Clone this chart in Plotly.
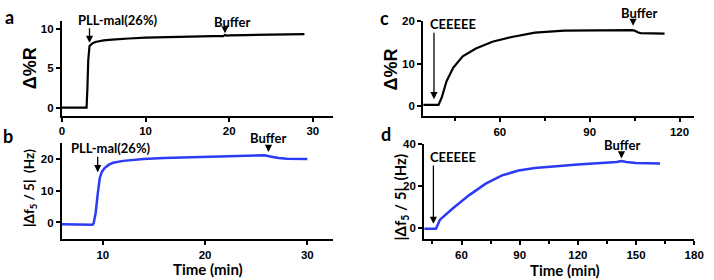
import plotly.graph_objects as go

# ---------------- data ----------------
a_time = [0, 1, 2, 2.95, 3.05, 3.15, 3.3, 3.6, 4, 5, 6, 7, 8, 10, 12, 15, 18, 19.3, 19.5, 19.7, 20, 22, 25, 28, 29]
a_val = [0, 0, 0, 0, 2.5, 6.0, 7.8, 8.1, 8.3, 8.5, 8.6, 8.7, 8.75, 8.85, 8.92, 9.0, 9.05, 9.05, 9.2, 9.12, 9.15, 9.18, 9.22, 9.28, 9.3]

b_time = [6, 7, 8, 9, 9.1, 9.3, 9.5, 9.7, 9.9, 10.2, 10.6, 11, 12, 13, 14, 16, 18, 20, 22, 24, 25, 25.8, 26.5, 27.2, 28, 29, 30]
b_val = [-0.6, -0.7, -0.7, -0.7, -0.3, 3, 9, 14, 16, 17.3, 18.3, 18.9, 19.5, 19.9, 20.1, 20.4, 20.6, 20.8, 21.0, 21.2, 21.4, 21.3, 20.8, 20.4, 20.2, 20.1, 20.1]

c_time = [34.4, 37, 39.5, 40.6, 42.2, 44.4, 47.6, 52, 57.5, 64, 71.7, 81.5, 90, 100, 104, 105, 106, 107, 110, 115]
c_val = [0.37, 0.37, 0.37, 2.1, 5.9, 9.0, 11.7, 13.5, 15.1, 16.2, 17.2, 17.7, 17.8, 17.8, 17.8, 17.7, 17.3, 17.1, 17.0, 17.0]

d_time = [40.75, 44, 46.8, 48.9, 55.6, 64, 72.5, 80.9, 89.4, 97.8, 114.7, 120, 130, 140, 142.5, 145, 150, 155, 162.4]
d_val = [-0.2, -0.2, -0.2, 4.1, 9.5, 15.7, 21.1, 25, 27.3, 28.5, 29.9, 30.2, 30.8, 31.3, 31.8, 31.3, 30.9, 30.8, 30.6]

# annotations: (label, time, value)
a_marks = [("PLL-mal(26%)", 3.3, 8.2), ("Buffer", 19.5, 9.4)]
b_marks = [("PLL-mal(26%)", 9.5, 15.9), ("Buffer", 26.2, 22.3)]
c_marks = [("CEEEEE", 38.0, 1.7), ("Buffer", 104.5, 18.8)]
d_marks = [("CEEEEE", 45.5, 2.1), ("Buffer", 142.5, 33.0)]

BLACK = "#000000"
BLUE = "#2b3bf5"
W, H = 714, 280


def px(x):
    return x / W


def py(y):
    return 1 - y / H


TICKFONT = dict(family="Liberation Sans", size=11.5, color="black", weight="bold")
TXTFONT = dict(family="Lato", size=13, color="black", weight="bold")

fig = go.Figure()
fig.add_trace(go.Scatter(x=a_time, y=a_val, mode="lines", line=dict(color=BLACK, width=2.2), xaxis="x", yaxis="y"))
fig.add_trace(go.Scatter(x=b_time, y=b_val, mode="lines", line=dict(color=BLUE, width=2.5), xaxis="x2", yaxis="y2"))
fig.add_trace(go.Scatter(x=c_time, y=c_val, mode="lines", line=dict(color=BLACK, width=2.2), xaxis="x3", yaxis="y3"))
fig.add_trace(go.Scatter(x=d_time, y=d_val, mode="lines", line=dict(color=BLUE, width=2.5), xaxis="x4", yaxis="y4"))


def xax(dom, rng, tickvals, anchor, minor=None):
    d = dict(domain=[px(dom[0]), px(dom[1])], range=rng, tickvals=tickvals, anchor=anchor,
             showline=True, linecolor="black", linewidth=2, ticks="outside", ticklen=4,
             tickwidth=1.5, tickcolor="black", showgrid=False, zeroline=False,
             tickfont=TICKFONT, fixedrange=True)
    if minor:
        d["minor"] = dict(tickvals=minor, ticks="outside", ticklen=3, tickwidth=1.5, tickcolor="black", showgrid=False)
    return d


def yax(dom, rng, tickvals, anchor):
    return dict(domain=[py(dom[1]), py(dom[0])], range=rng, tickvals=tickvals, anchor=anchor,
                showline=True, linecolor="black", linewidth=2, ticks="outside", ticklen=4,
                tickwidth=1.5, tickcolor="black", showgrid=False, zeroline=False,
                tickfont=TICKFONT, fixedrange=True)


fig.update_layout(
    width=W, height=H, margin=dict(l=0, r=0, t=0, b=0),
    paper_bgcolor="white", plot_bgcolor="white", showlegend=False,
    xaxis=xax((60, 336), [0, 32.4], [0, 10, 20, 30], "y"),
    yaxis=yax((15, 112), [-1, 11], [0, 5, 10], "x"),
    xaxis2=xax((60, 336), [6, 32.5], [10, 20, 30], "y2"),
    yaxis2=yax((140.5, 238), [-5.2, 25], [0, 10, 20], "x2"),
    xaxis3=xax((428, 704), [34.4, 124.9], [60, 90, 120], "y3", minor=[45, 75, 105]),
    yaxis3=yax((15, 112.3), [-2.2, 20], [0, 10, 20], "x3"),
    xaxis4=xax((429, 704), [40.75, 180], [60, 90, 120, 150, 180], "y4", minor=[45, 75, 105, 135, 165]),
    yaxis4=yax((140.7, 238), [-5, 40], [0, 20, 40], "x4"),
)

ann = []
# arrows (tip in data coords, tail offset in pixels)
arrow_specs = [
    ("x", "y", a_marks[0], -16), ("x", "y", a_marks[1], -8),
    ("x2", "y2", b_marks[0], -17), ("x2", "y2", b_marks[1], -8),
    ("x3", "y3", c_marks[0], -68), ("x3", "y3", c_marks[1], -7),
    ("x4", "y4", d_marks[0], -60), ("x4", "y4", d_marks[1], -7),
]
for xr, yr, (lab, t, v), ay in arrow_specs:
    ann.append(dict(x=t, y=v, xref=xr, yref=yr, text="", showarrow=True, ax=0, ay=ay,
                    arrowhead=2, arrowsize=1.1, arrowwidth=1.3, arrowcolor="black"))

# arrow labels (pixel positions)
label_pos = [
    (a_marks[0][0], 117, 14), (a_marks[1][0], 233, 16),
    (b_marks[0][0], 110, 145), (b_marks[1][0], 270, 135),
    (c_marks[0][0], 458, 18), (c_marks[1][0], 647.5, 7.5),
    (d_marks[0][0], 458, 154), (d_marks[1][0], 630, 142),
]
for lab, x, y in label_pos:
    ann.append(dict(x=px(x), y=py(y), xref="paper", yref="paper", text=lab, showarrow=False,
                    xanchor="center", yanchor="middle", font=TXTFONT))

# panel letters
for lab, x, y in [("a", 7, 11), ("b", 5.5, 133), ("c", 389, 12), ("d", 390, 131)]:
    ann.append(dict(x=px(x), y=py(y), xref="paper", yref="paper", text=lab, showarrow=False,
                    xanchor="center", yanchor="middle",
                    font=dict(family="Lato", size=18, color="black", weight="bold")))

# y titles
ann.append(dict(x=px(27.5), y=py(63.5), xref="paper", yref="paper", text="Δ%R", textangle=-90,
                showarrow=False, xanchor="center", yanchor="middle",
                font=dict(family="Liberation Sans", size=18, color="black", weight="bold")))
ann.append(dict(x=px(395.5), y=py(64.5), xref="paper", yref="paper", text="Δ%R", textangle=-90,
                showarrow=False, xanchor="center", yanchor="middle",
                font=dict(family="Liberation Sans", size=18, color="black", weight="bold")))
ann.append(dict(x=px(27), y=py(186.5), xref="paper", yref="paper", text="|Δf<sub>5</sub> / 5|  (Hz)",
                textangle=-90, showarrow=False, xanchor="center", yanchor="middle",
                font=dict(family="Lato", size=13.5, color="black", weight="bold")))
ann.append(dict(x=px(405), y=py(195), xref="paper", yref="paper", text="|Δf<sub>5</sub> / 5|  (Hz)",
                textangle=-90, showarrow=False, xanchor="center", yanchor="middle",
                font=dict(family="Lato", size=15, color="black", weight="bold")))
# x titles
for x, y in [(209, 269), (572, 269.5)]:
    ann.append(dict(x=px(x), y=py(y), xref="paper", yref="paper", text="Time (min)", showarrow=False,
                    xanchor="center", yanchor="middle",
                    font=dict(family="Lato", size=15, color="black", weight="bold")))

fig.update_layout(annotations=ann)
fig.write_html("out.html", config={"displayModeBar": False},
               post_script="document.body.style.margin='0';")
